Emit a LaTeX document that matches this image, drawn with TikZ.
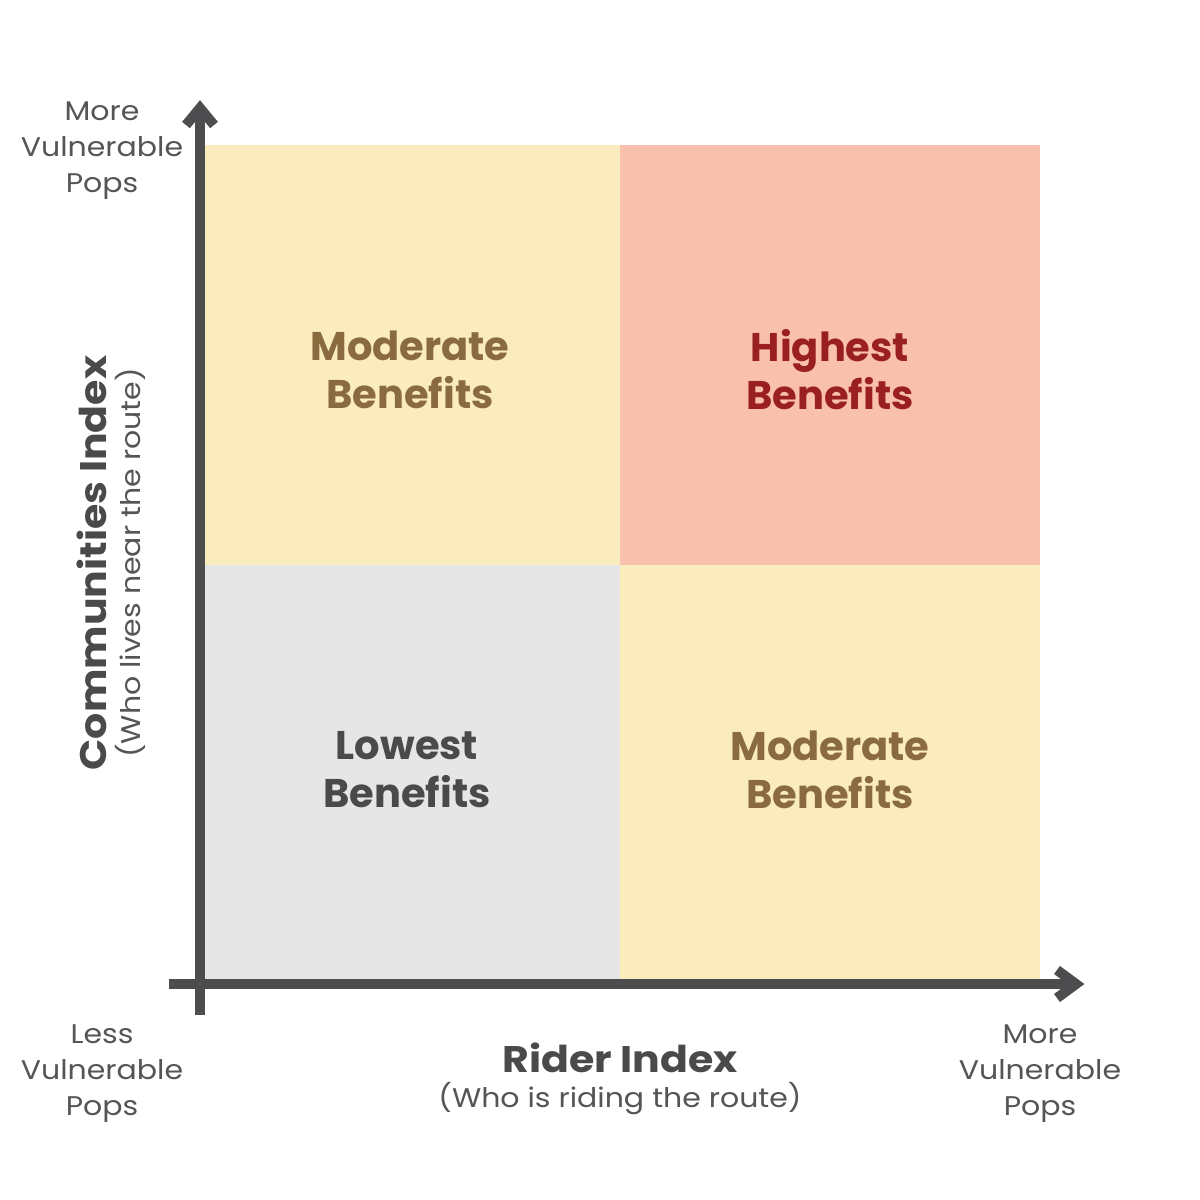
\documentclass[tikz,border=0pt]{standalone}
\usepackage{fontspec}
\setmainfont{Poppins}
\newfontfamily\widefont[FakeStretch=1.11]{Poppins}
\definecolor{qyellow}{HTML}{FBECBD}
\definecolor{qsalmon}{HTML}{F8C0AD}
\definecolor{qgray}{HTML}{E6E6E6}
\definecolor{tbrown}{HTML}{8A6A3F}
\definecolor{tred}{HTML}{9A1F1F}
\definecolor{tgray}{HTML}{4A4A4C}
\definecolor{axisc}{HTML}{4D4D4F}
\definecolor{lblc}{HTML}{555557}
\tikzset{
  quadlabel/.style={align=center, font=\fontsize{40}{48}\selectfont\bfseries, inner sep=0pt},
  sidelabel/.style={align=center, font=\widefont\fontsize{27}{36}\selectfont, text=lblc, inner sep=0pt},
  titlelabel/.style={inner sep=0pt, text=tgray, font=\widefont\fontsize{37}{44}\selectfont\bfseries},
  sublabel/.style={inner sep=0pt, text=lblc, font=\widefont\fontsize{27}{34}\selectfont},
  axisline/.style={draw=axisc, line width=10pt},
  chev/.style={draw=axisc, line width=10pt, miter limit=10},
}
\begin{document}
\begin{tikzpicture}[x=1pt,y=-1pt]
\useasboundingbox[fill=white] (0,0) rectangle (1200,1200);
% quadrants
\fill[qyellow] (205,145) rectangle (620,565);
\fill[qsalmon] (620,145) rectangle (1040,565);
\fill[qgray] (205,565) rectangle (620,984);
\fill[qyellow] (620,565) rectangle (1040,984);
% axes
\coordinate (vb) at (200,1015);
\coordinate (vt) at (200,106);
\coordinate (hl) at (169,984);
\coordinate (hr) at (1078,984);
\draw[axisline] (vb) -- (vt);
\draw[axisline] (hl) -- (hr);
\draw[chev] (186,125) -- (200,108) -- (214,125);
\draw[chev] (1057,970) -- (1076,984) -- (1057,998);
% quadrant labels
\node[quadlabel, text=tbrown] (ml) at (410,370) {Moderate\\Benefits};
\node[quadlabel, text=tred] (hi) at (830,370) {Highest\\Benefits};
\node[quadlabel, text=tgray] (lo) at (407,770) {Lowest\\Benefits};
\node[quadlabel, text=tbrown] (mr) at (830,770) {Moderate\\Benefits};
% side labels
\node[sidelabel] (tl) at (102,151) {More\\Vulnerable\\Pops};
\node[sidelabel] (bl) at (102,1074) {Less\\Vulnerable\\Pops};
\node[sidelabel] (br) at (1040,1074) {More\\Vulnerable\\Pops};
% axis titles
\node[titlelabel] (rx) at (620,1058) {Rider Index};
\node[sublabel] (rxs) at (620,1099) {(Who is riding the route)};
\node[titlelabel, rotate=90] (cy) at (92,563) {Communities Index};
\node[sublabel, rotate=90] (cys) at (130,563) {(Who lives near the route)};
\end{tikzpicture}
\end{document}
